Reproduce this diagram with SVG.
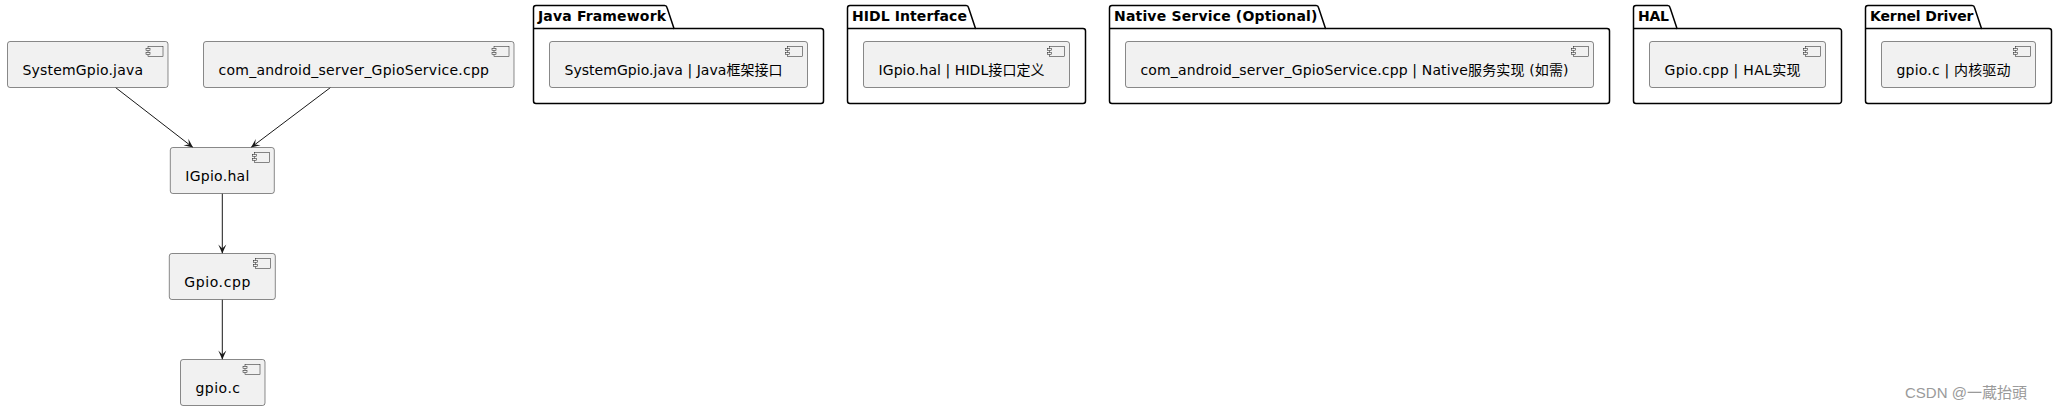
<svg xmlns="http://www.w3.org/2000/svg" width="2057" height="410" viewBox="0 0 2057 410">
<style>
.comp{fill:#F1F1F1;stroke:#181818;stroke-width:0.5}
.ico{fill:#F1F1F1;stroke:#181818;stroke-width:0.5}
.lbl{font-family:"DejaVu Sans","Noto Sans CJK SC",sans-serif;font-size:14px;fill:#000000}
.pkg{fill:none;stroke:#000000;stroke-width:1.5}
.ttl{font-family:"DejaVu Sans",sans-serif;font-size:14px;font-weight:bold;fill:#000000}
.edge{stroke:#181818;stroke-width:1;fill:none}
.wm{font-family:"Liberation Sans","Noto Sans CJK JP",sans-serif;font-size:15px;fill:#9a9a9a}
</style>
<defs>
<marker id="arr" viewBox="-10 -5 11 10" refX="0" refY="0" markerWidth="11" markerHeight="10" markerUnits="userSpaceOnUse" orient="auto">
<path d="M0,0 L-9,-4 L-5,0 L-9,4 Z" fill="#181818"/>
</marker>
<g id="icon">
<rect class="ico" x="0" y="0" width="15" height="10"/>
<rect class="ico" x="-2" y="2" width="4" height="2"/>
<rect class="ico" x="-2" y="6" width="4" height="2"/>
</g>
</defs>
<rect width="2057" height="410" fill="#FFFFFF"/>

<g id="connectors">
<line class="edge" x1="115.5" y1="87.5" x2="193" y2="147.5" marker-end="url(#arr)"/>
<line class="edge" x1="330.5" y1="87.5" x2="251" y2="147.5" marker-end="url(#arr)"/>
<line class="edge" x1="222.3" y1="193.5" x2="222.3" y2="253.5" marker-end="url(#arr)"/>
<line class="edge" x1="222.3" y1="299.5" x2="222.3" y2="359.5" marker-end="url(#arr)"/>
</g>

<g id="node-systemgpio">
<rect class="comp" x="7.5" y="41.5" width="160.5" height="46" rx="2.5" ry="2.5"/>
<use href="#icon" x="148" y="46.5"/>
<text class="lbl" x="22.5" y="74.5" textLength="120.5" lengthAdjust="spacing">SystemGpio.java</text>
</g>
<g id="node-gpioservice">
<rect class="comp" x="203.5" y="41.5" width="310.5" height="46" rx="2.5" ry="2.5"/>
<use href="#icon" x="494" y="46.5"/>
<text class="lbl" x="218.5" y="74.5" textLength="270.5" lengthAdjust="spacing">com_android_server_GpioService.cpp</text>
</g>
<g id="node-igpiohal">
<rect class="comp" x="170.3" y="147.5" width="104" height="46" rx="2.5" ry="2.5"/>
<use href="#icon" x="254.3" y="152.5"/>
<text class="lbl" x="185.3" y="180.5" textLength="64" lengthAdjust="spacing">IGpio.hal</text>
</g>
<g id="node-gpiocpp">
<rect class="comp" x="169.3" y="253.5" width="106" height="46" rx="2.5" ry="2.5"/>
<use href="#icon" x="255.3" y="258.5"/>
<text class="lbl" x="184.3" y="286.5" textLength="66" lengthAdjust="spacing">Gpio.cpp</text>
</g>
<g id="node-gpioc">
<rect class="comp" x="180.5" y="359.5" width="84.5" height="46" rx="2.5" ry="2.5"/>
<use href="#icon" x="245" y="364.5"/>
<text class="lbl" x="195.5" y="392.5" textLength="44.5" lengthAdjust="spacing">gpio.c</text>
</g>

<g id="pkg-java">
<path class="pkg" d="M533.5,8 A2.5,2.5 0 0 1 536,5.5 L664.5,5.5 A2.5,2.5 0 0 1 667,7.5 L674,28.5 L821,28.5 A2.5,2.5 0 0 1 823.5,31 L823.5,101 A2.5,2.5 0 0 1 821,103.5 L536,103.5 A2.5,2.5 0 0 1 533.5,101 Z"/>
<line class="pkg" x1="533.5" y1="28.5" x2="674" y2="28.5"/>
<text class="ttl" x="538" y="21" textLength="128" lengthAdjust="spacing">Java Framework</text>
<g id="node-java-inner">
<rect class="comp" x="549.5" y="41.5" width="258" height="46" rx="2.5" ry="2.5"/>
<use href="#icon" x="787.5" y="46.5"/>
<text class="lbl" x="564.5" y="74.5" textLength="218" lengthAdjust="spacing">SystemGpio.java | Java框架接口</text>
</g>
</g>

<g id="pkg-hidl">
<path class="pkg" d="M847.5,8 A2.5,2.5 0 0 1 850,5.5 L966,5.5 A2.5,2.5 0 0 1 968.5,7.5 L975.5,28.5 L1083,28.5 A2.5,2.5 0 0 1 1085.5,31 L1085.5,101 A2.5,2.5 0 0 1 1083,103.5 L850,103.5 A2.5,2.5 0 0 1 847.5,101 Z"/>
<line class="pkg" x1="847.5" y1="28.5" x2="975.5" y2="28.5"/>
<text class="ttl" x="852" y="21" textLength="115" lengthAdjust="spacing">HIDL Interface</text>
<g id="node-hidl-inner">
<rect class="comp" x="863.5" y="41.5" width="206" height="46" rx="2.5" ry="2.5"/>
<use href="#icon" x="1049.5" y="46.5"/>
<text class="lbl" x="878.5" y="74.5" textLength="166" lengthAdjust="spacing">IGpio.hal | HIDL接口定义</text>
</g>
</g>

<g id="pkg-native">
<path class="pkg" d="M1109.5,8 A2.5,2.5 0 0 1 1112,5.5 L1316,5.5 A2.5,2.5 0 0 1 1318.5,7.5 L1325.5,28.5 L1607,28.5 A2.5,2.5 0 0 1 1609.5,31 L1609.5,101 A2.5,2.5 0 0 1 1607,103.5 L1112,103.5 A2.5,2.5 0 0 1 1109.5,101 Z"/>
<line class="pkg" x1="1109.5" y1="28.5" x2="1325.5" y2="28.5"/>
<text class="ttl" x="1114" y="21" textLength="203.5" lengthAdjust="spacing">Native Service (Optional)</text>
<g id="node-native-inner">
<rect class="comp" x="1125.5" y="41.5" width="468" height="46" rx="2.5" ry="2.5"/>
<use href="#icon" x="1573.5" y="46.5"/>
<text class="lbl" x="1140.5" y="74.5" textLength="428" lengthAdjust="spacing">com_android_server_GpioService.cpp | Native服务实现 (如需)</text>
</g>
</g>

<g id="pkg-hal">
<path class="pkg" d="M1633.5,8 A2.5,2.5 0 0 1 1636,5.5 L1667.5,5.5 A2.5,2.5 0 0 1 1670,7.5 L1677,28.5 L1839,28.5 A2.5,2.5 0 0 1 1841.5,31 L1841.5,101 A2.5,2.5 0 0 1 1839,103.5 L1636,103.5 A2.5,2.5 0 0 1 1633.5,101 Z"/>
<line class="pkg" x1="1633.5" y1="28.5" x2="1677" y2="28.5"/>
<text class="ttl" x="1638" y="21" textLength="31" lengthAdjust="spacing">HAL</text>
<g id="node-hal-inner">
<rect class="comp" x="1649.5" y="41.5" width="176" height="46" rx="2.5" ry="2.5"/>
<use href="#icon" x="1805.5" y="46.5"/>
<text class="lbl" x="1664.5" y="74.5" textLength="136" lengthAdjust="spacing">Gpio.cpp | HAL实现</text>
</g>
</g>

<g id="pkg-kernel">
<path class="pkg" d="M1865.5,8 A2.5,2.5 0 0 1 1868,5.5 L1972,5.5 A2.5,2.5 0 0 1 1974.5,7.5 L1981.5,28.5 L2049,28.5 A2.5,2.5 0 0 1 2051.5,31 L2051.5,101 A2.5,2.5 0 0 1 2049,103.5 L1868,103.5 A2.5,2.5 0 0 1 1865.5,101 Z"/>
<line class="pkg" x1="1865.5" y1="28.5" x2="1981.5" y2="28.5"/>
<text class="ttl" x="1870" y="21" textLength="103.5" lengthAdjust="spacing">Kernel Driver</text>
<g id="node-kernel-inner">
<rect class="comp" x="1881.5" y="41.5" width="154" height="46" rx="2.5" ry="2.5"/>
<use href="#icon" x="2015.5" y="46.5"/>
<text class="lbl" x="1896.5" y="74.5" textLength="114" lengthAdjust="spacing">gpio.c | 内核驱动</text>
</g>
</g>

<text class="wm" x="1905" y="397.5">CSDN @一蔵抬頭</text>
</svg>
